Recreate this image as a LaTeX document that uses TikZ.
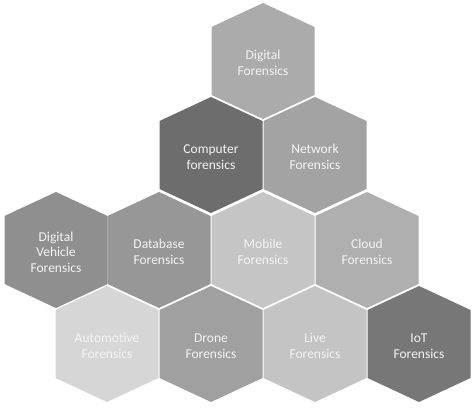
\documentclass[tikz,border=0pt]{standalone}
\usepackage{fontspec}
\setmainfont{Carlito}
\usepackage{tikz}
\usetikzlibrary{calc}

\definecolor{hexA}{HTML}{ABABAB}
\definecolor{hexB}{HTML}{6D6D6D}
\definecolor{hexC}{HTML}{A3A3A3}
\definecolor{hexD}{HTML}{8F8F8F}
\definecolor{hexE}{HTML}{979797}
\definecolor{hexF}{HTML}{C5C5C5}
\definecolor{hexG}{HTML}{AFAFAF}
\definecolor{hexH}{HTML}{D6D6D6}
\definecolor{hexI}{HTML}{A0A0A0}
\definecolor{hexJ}{HTML}{C4C4C4}
\definecolor{hexK}{HTML}{777777}
\definecolor{hextext}{HTML}{F4F4F4}

\tikzset{
  hexname/.style={text=hextext, align=center, inner sep=0pt,
    font=\fontsize{9.6}{11}\selectfont}
}

\begin{document}
\begin{tikzpicture}[x=0.025cm, y=-0.025cm]
\useasboundingbox (0,0) rectangle (474,412);
\foreach \x/\y/\c/\n/\t in {
  263/61/hexA/dig/{Digital\\Forensics},
  211/155/hexB/comp/{Computer\\forensics},
  315/155/hexC/net/{Network\\Forensics},
  56/250/hexD/veh/{Digital\\Vehicle\\Forensics},
  159/250/hexE/db/{Database\\Forensics},
  263/250/hexF/mob/{Mobile\\Forensics},
  367/250/hexG/cloud/{Cloud\\Forensics},
  107/344/hexH/auto/{Automotive\\Forensics},
  211/344/hexI/drone/{Drone\\Forensics},
  315/344/hexJ/live/{Live\\Forensics},
  419/344/hexK/iot/{IoT\\Forensics}}
{
\fill[\c, shift={(\x,\y)}]
(0,-58) -- (51.5,-34) -- (51.5,34) -- (0,58) -- (-51.5,34) -- (-51.5,-34) -- cycle;
\node[hexname] (\n) at ($(\x,\y)+(0,2)$) {\t};
}
\end{tikzpicture}
\end{document}
